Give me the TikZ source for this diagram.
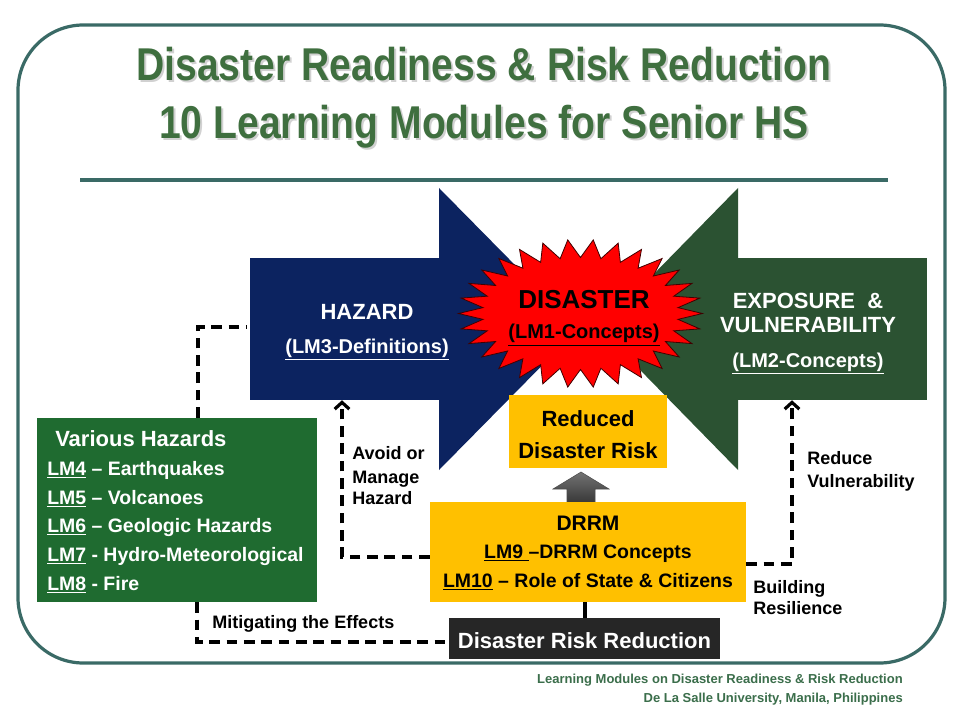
\documentclass[tikz,border=0pt]{standalone}
\usepackage{fontspec}
\setmainfont{Liberation Sans}
\newfontfamily\titlefont[FakeStretch=0.85]{Liberation Sans}
\usetikzlibrary{arrows.meta,calc}
\definecolor{framec}{HTML}{3A6A66}
\definecolor{titlegreen}{HTML}{3F6F3F}
\definecolor{navy}{HTML}{0C2360}
\definecolor{expgreen}{HTML}{2B5232}
\definecolor{vhgreen}{HTML}{1F6B30}
\definecolor{gold}{HTML}{FFC000}
\definecolor{drrgray}{HTML}{262626}
\definecolor{footgreen}{HTML}{3B6E4B}
\definecolor{starred}{HTML}{FF0000}
\tikzset{
  lbl/.style={inner sep=0pt, anchor=base},
  lblw/.style={inner sep=0pt, anchor=base west},
  boxn/.style={inner sep=0pt, draw=none},
  dashconn/.style={line width=3pt, dash pattern=on 8pt off 5pt, black},
  arr/.style={-{Straight Barb[length=5pt,width=11pt,line width=2.4pt]}},
  fA/.style={font=\bfseries\fontsize{16.5}{20}\selectfont},
  fB/.style={font=\bfseries\fontsize{15}{18}\selectfont},
  fC/.style={font=\bfseries\fontsize{14.6}{18}\selectfont},
  fD/.style={font=\bfseries\fontsize{13.5}{16}\selectfont},
}
\begin{document}
\begin{tikzpicture}[x=0.75pt,y=-0.75pt]
\useasboundingbox (0,0) rectangle (960,720);
\fill[white] (0,0) rectangle (960,720);
% frame
\draw[framec, line width=2.4pt, rounded corners=49pt] (18,25) rectangle (945,663);
% title
\foreach \dx/\col in {2/black!18, 0/titlegreen}{
  \node[lbl, text=\col, font=\titlefont\bfseries\fontsize{34.5}{40}\selectfont] at (484+\dx,81+\dx) {Disaster Readiness \& Risk Reduction};
  \node[lbl, text=\col, font=\titlefont\bfseries\fontsize{34.5}{40}\selectfont] at (484+\dx,139+\dx) {10 Learning Modules for Senior HS};
}
\draw[framec, line width=2.6pt] (80,180) -- (888,180);
% hazard arrow
\node[boxn, fill=navy, minimum width=142.5pt, minimum height=106.5pt] (hz) at (345,329) {};
\fill[navy] (439,188) -- (578,329) -- (439,470) -- cycle;
% exposure arrow
\node[boxn, fill=expgreen, minimum width=142.5pt, minimum height=106.5pt] (ex) at (832,329) {};
\fill[expgreen] (738,188) -- (600,329) -- (738,470) -- cycle;
% star
\path[fill=starred, draw=black!75!red, line width=0.6pt, line join=miter]
  (702.5,313.5) \foreach \k in {0,...,29} {
    -- ({580.5+98*cos(\k*12+6)},{313.5+56*sin(\k*12+6)})
    -- ({580.5+122*cos(\k*12+12)},{313.5+74*sin(\k*12+12)}) } -- cycle;
\node[lbl, font=\bfseries\fontsize{19.5}{22}\selectfont] (dis) at (584,309) {DISASTER};
\node[lbl, fB] at (584,339) {\underline{(LM1-Concepts)}};
% hazard texts
\node[lbl, fA, white] at (367,320) {HAZARD};
\node[lbl, fB, white] at (367,353) {\underline{(LM3-Definitions)}};
% exposure texts
\node[lbl, fA, white] at (808,308) {EXPOSURE\ \ \&};
\node[lbl, fA, white] at (808,332) {VULNERABILITY};
\node[lbl, fB, white] at (808,367) {\underline{(LM2-Concepts)}};
% reduced disaster risk
\node[boxn, fill=gold, minimum width=118.5pt, minimum height=54.75pt] (red) at (588,431.5) {};
\node[lbl, fA] at (588,426) {Reduced};
\node[lbl, fA] at (588,458) {Disaster Risk};
% grey block arrow
\path[top color=black!55, bottom color=black!80, draw=black!70, line width=0.4pt]
  (567,505) -- (567,489) -- (553,489) -- (581,472) -- (609,489) -- (595,489) -- (595,505) -- cycle;
% DRRM
\node[boxn, fill=gold, minimum width=237pt, minimum height=75pt] (dr) at (588,552) {};
\node[lbl, font=\bfseries\fontsize{15.75}{18}\selectfont] at (588,530) {DRRM};
\node[lbl, fC] at (588,558) {\underline{LM9\ }–DRRM Concepts};
\node[lbl, fC] at (588,587) {\underline{LM10} – Role of State \& Citizens};
% DRR
\node[boxn, fill=drrgray, minimum width=203pt, minimum height=30.75pt] (rr) at (584.5,638.5) {};
\node[lbl, fA, white] at (584.5,648) {Disaster Risk Reduction};
\draw[line width=3pt] (rr.north) -- (rr.north |- dr.south);
% various hazards
\node[boxn, fill=vhgreen, minimum width=210pt, minimum height=138pt] (vh) at (177,510) {};
\node[lblw, fA, white] at (55,446) {Various Hazards};
\node[lblw, fC, white] at (47,475) {\underline{LM4} – Earthquakes};
\node[lblw, fC, white] at (47,504) {\underline{LM5} – Volcanoes};
\node[lblw, fC, white] at (47,532) {\underline{LM6} – Geologic Hazards};
\node[lblw, fC, white] at (47,561) {\underline{LM7} - Hydro-Meteorological};
\node[lblw, fC, white] at (47,590) {\underline{LM8} - Fire};
% dashed connectors
\coordinate (k1) at (198,327);
\coordinate (k2) at (342,557);
\coordinate (k3) at (197,642);
\coordinate (k4) at (792,564);
\draw[dashconn] (vh.north -| k1) |- ($(hz.west |- k1)+(-3,0)$);
\draw[dashconn, arr] (dr.west |- k2) -| (hz.south -| k2);
\draw[dashconn] (vh.south -| k3) |- (rr.west |- k3);
\draw[dashconn, arr] (dr.east |- k4) -| (ex.south -| k4);
% connector labels
\node[lblw, fD] at (352,459.5) {Avoid or};
\node[lblw, fD] at (352,483) {Manage};
\node[lblw, fD] at (352,504.5) {Hazard};
\node[lblw, fD] at (807,464.5) {Reduce};
\node[lblw, fD] at (807,487.5) {Vulnerability};
\node[lblw, fD] at (753,593.5) {Building};
\node[lblw, fD] at (753,614.5) {Resilience};
\node[lblw, fD] at (212,628.5) {Mitigating the Effects};
% footer
\node[inner sep=0pt, anchor=base east, text=footgreen, font=\bfseries\fontsize{9.75}{12}\selectfont] at (903,683) {Learning Modules on Disaster Readiness \& Risk Reduction};
\node[inner sep=0pt, anchor=base east, text=footgreen, font=\bfseries\fontsize{9.75}{12}\selectfont] at (903,702) {De La Salle University, Manila, Philippines};
\end{tikzpicture}
\end{document}
